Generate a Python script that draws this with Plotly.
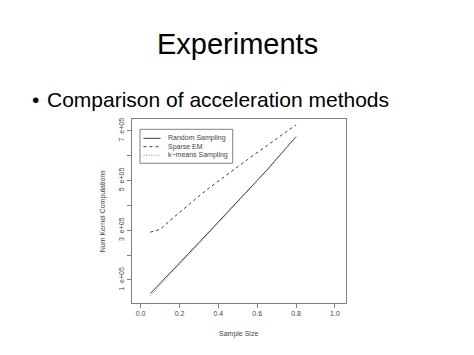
import plotly.graph_objects as go

# ---- data ----
sample_size = [0.05, 0.10, 0.15, 0.20, 0.25, 0.30, 0.35, 0.40,
               0.45, 0.50, 0.55, 0.60, 0.65, 0.70, 0.75, 0.80]
random_sampling = [0.45e5, 0.85e5, 1.26e5, 1.68e5, 2.09e5, 2.50e5, 2.91e5, 3.33e5,
                   3.74e5, 4.15e5, 4.57e5, 5.00e5, 5.42e5, 5.87e5, 6.31e5, 6.76e5]
sparse_em = [2.92e5, 3.03e5, 3.38e5, 3.72e5, 4.05e5, 4.37e5, 4.68e5, 4.98e5,
             5.27e5, 5.55e5, 5.84e5, 6.13e5, 6.41e5, 6.68e5, 6.96e5, 7.23e5]
kmeans_sampling = [0.36e5, 0.77e5, 1.19e5, 1.61e5, 2.03e5, 2.45e5, 2.87e5, 3.29e5,
                   3.71e5, 4.12e5, 4.55e5, 4.97e5, 5.40e5, 5.85e5, 6.29e5, 6.75e5]
series_names = ["Random Sampling", "Sparse EM", "k\u2212means Sampling"]
x_ticks = [0.0, 0.2, 0.4, 0.6, 0.8, 1.0]
x_tick_labels = ["0.0", "0.2", "0.4", "0.6", "0.8", "1.0"]
y_ticks = [1e5, 2e5, 3e5, 4e5, 5e5, 6e5, 7e5]
y_tick_labels = ["1  e+05", "", "3  e+05", "", "5  e+05", "", "7  e+05"]

W, H = 474, 355
FONT = "Liberation Sans, Arial, sans-serif"
TXT = "#454545"

styles = [dict(color="#3a3a3a", width=1),
          dict(color="#3a3a3a", width=1, dash="3px,3px"),
          dict(color="#8a8a8a", width=1, dash="1px,1.5px")]

fig = go.Figure()
for name, ys, st in zip(series_names, [random_sampling, sparse_em, kmeans_sampling], styles):
    fig.add_trace(go.Scatter(x=sample_size, y=ys, mode="lines", name=name,
                             line=st, showlegend=False))

box_l, box_r, box_t, box_b = 131.7, 346.0, 119.0, 302.7

axis_common = dict(showline=True, linecolor="#808080", linewidth=1, mirror=True,
                   ticks="outside", ticklen=4, tickcolor="#808080", tickwidth=1,
                   showgrid=False, zeroline=False,
                   tickfont=dict(family=FONT, size=7, color=TXT))

fig.update_layout(
    width=W, height=H,
    margin=dict(l=0, r=0, t=0, b=0),
    paper_bgcolor="white", plot_bgcolor="white",
    xaxis=dict(domain=[box_l / W, box_r / W], range=[-0.046, 1.057],
               tickvals=x_ticks, ticktext=x_tick_labels, **axis_common),
    yaxis=dict(domain=[(H - box_b) / H, (H - box_t) / H], range=[0.085e5, 7.47e5],
               tickvals=y_ticks, ticktext=y_tick_labels, tickangle=-90,
               **axis_common),
    showlegend=False,
)

def px(x):
    return x / W

def py(y):
    return 1 - y / H

# legend box (R-style compact legend)
leg_l, leg_r, leg_t, leg_b = 140.0, 232.7, 129.3, 163.3
leg_rows = [138.3, 146.7, 155.2]
fig.add_shape(type="rect", xref="paper", yref="paper",
              x0=px(leg_l), x1=px(leg_r), y0=py(leg_b), y1=py(leg_t),
              line=dict(color="#808080", width=1), fillcolor="white", layer="above")
for name, st, ry in zip(series_names, styles, leg_rows):
    fig.add_shape(type="line", xref="paper", yref="paper",
                  x0=px(143.5), x1=px(160.5), y0=py(ry), y1=py(ry),
                  line=st, layer="above")
    fig.add_annotation(text=name, x=px(166), y=py(ry), xref="paper", yref="paper",
                       showarrow=False, xanchor="left", yanchor="middle",
                       font=dict(family=FONT, size=7, color=TXT))

fig.add_annotation(text="Experiments", x=px(237), y=py(44), xref="paper", yref="paper",
                   showarrow=False, font=dict(family=FONT, size=29, color="black"),
                   xanchor="center", yanchor="middle")
fig.add_annotation(text="\u2022", x=px(30), y=py(99), xref="paper", yref="paper",
                   showarrow=False, font=dict(family=FONT, size=21, color="black"),
                   xanchor="left", yanchor="middle")
fig.add_annotation(text="Comparison of acceleration methods", x=px(45), y=py(99),
                   xref="paper", yref="paper", showarrow=False,
                   font=dict(family=FONT, size=21, color="black"),
                   xanchor="left", yanchor="middle")
fig.add_annotation(text="Sample Size", x=px(238), y=py(334), xref="paper", yref="paper",
                   showarrow=False, font=dict(family=FONT, size=7, color=TXT),
                   xanchor="center", yanchor="middle")
fig.add_annotation(text="Num Kernel Computations", x=px(103.3), y=py(211),
                   xref="paper", yref="paper", showarrow=False, textangle=-90,
                   font=dict(family=FONT, size=7, color=TXT),
                   xanchor="center", yanchor="middle")

fig.write_html("out.html", config={"displayModeBar": False},
               post_script="document.body.style.margin='0';document.body.style.padding='0';")
